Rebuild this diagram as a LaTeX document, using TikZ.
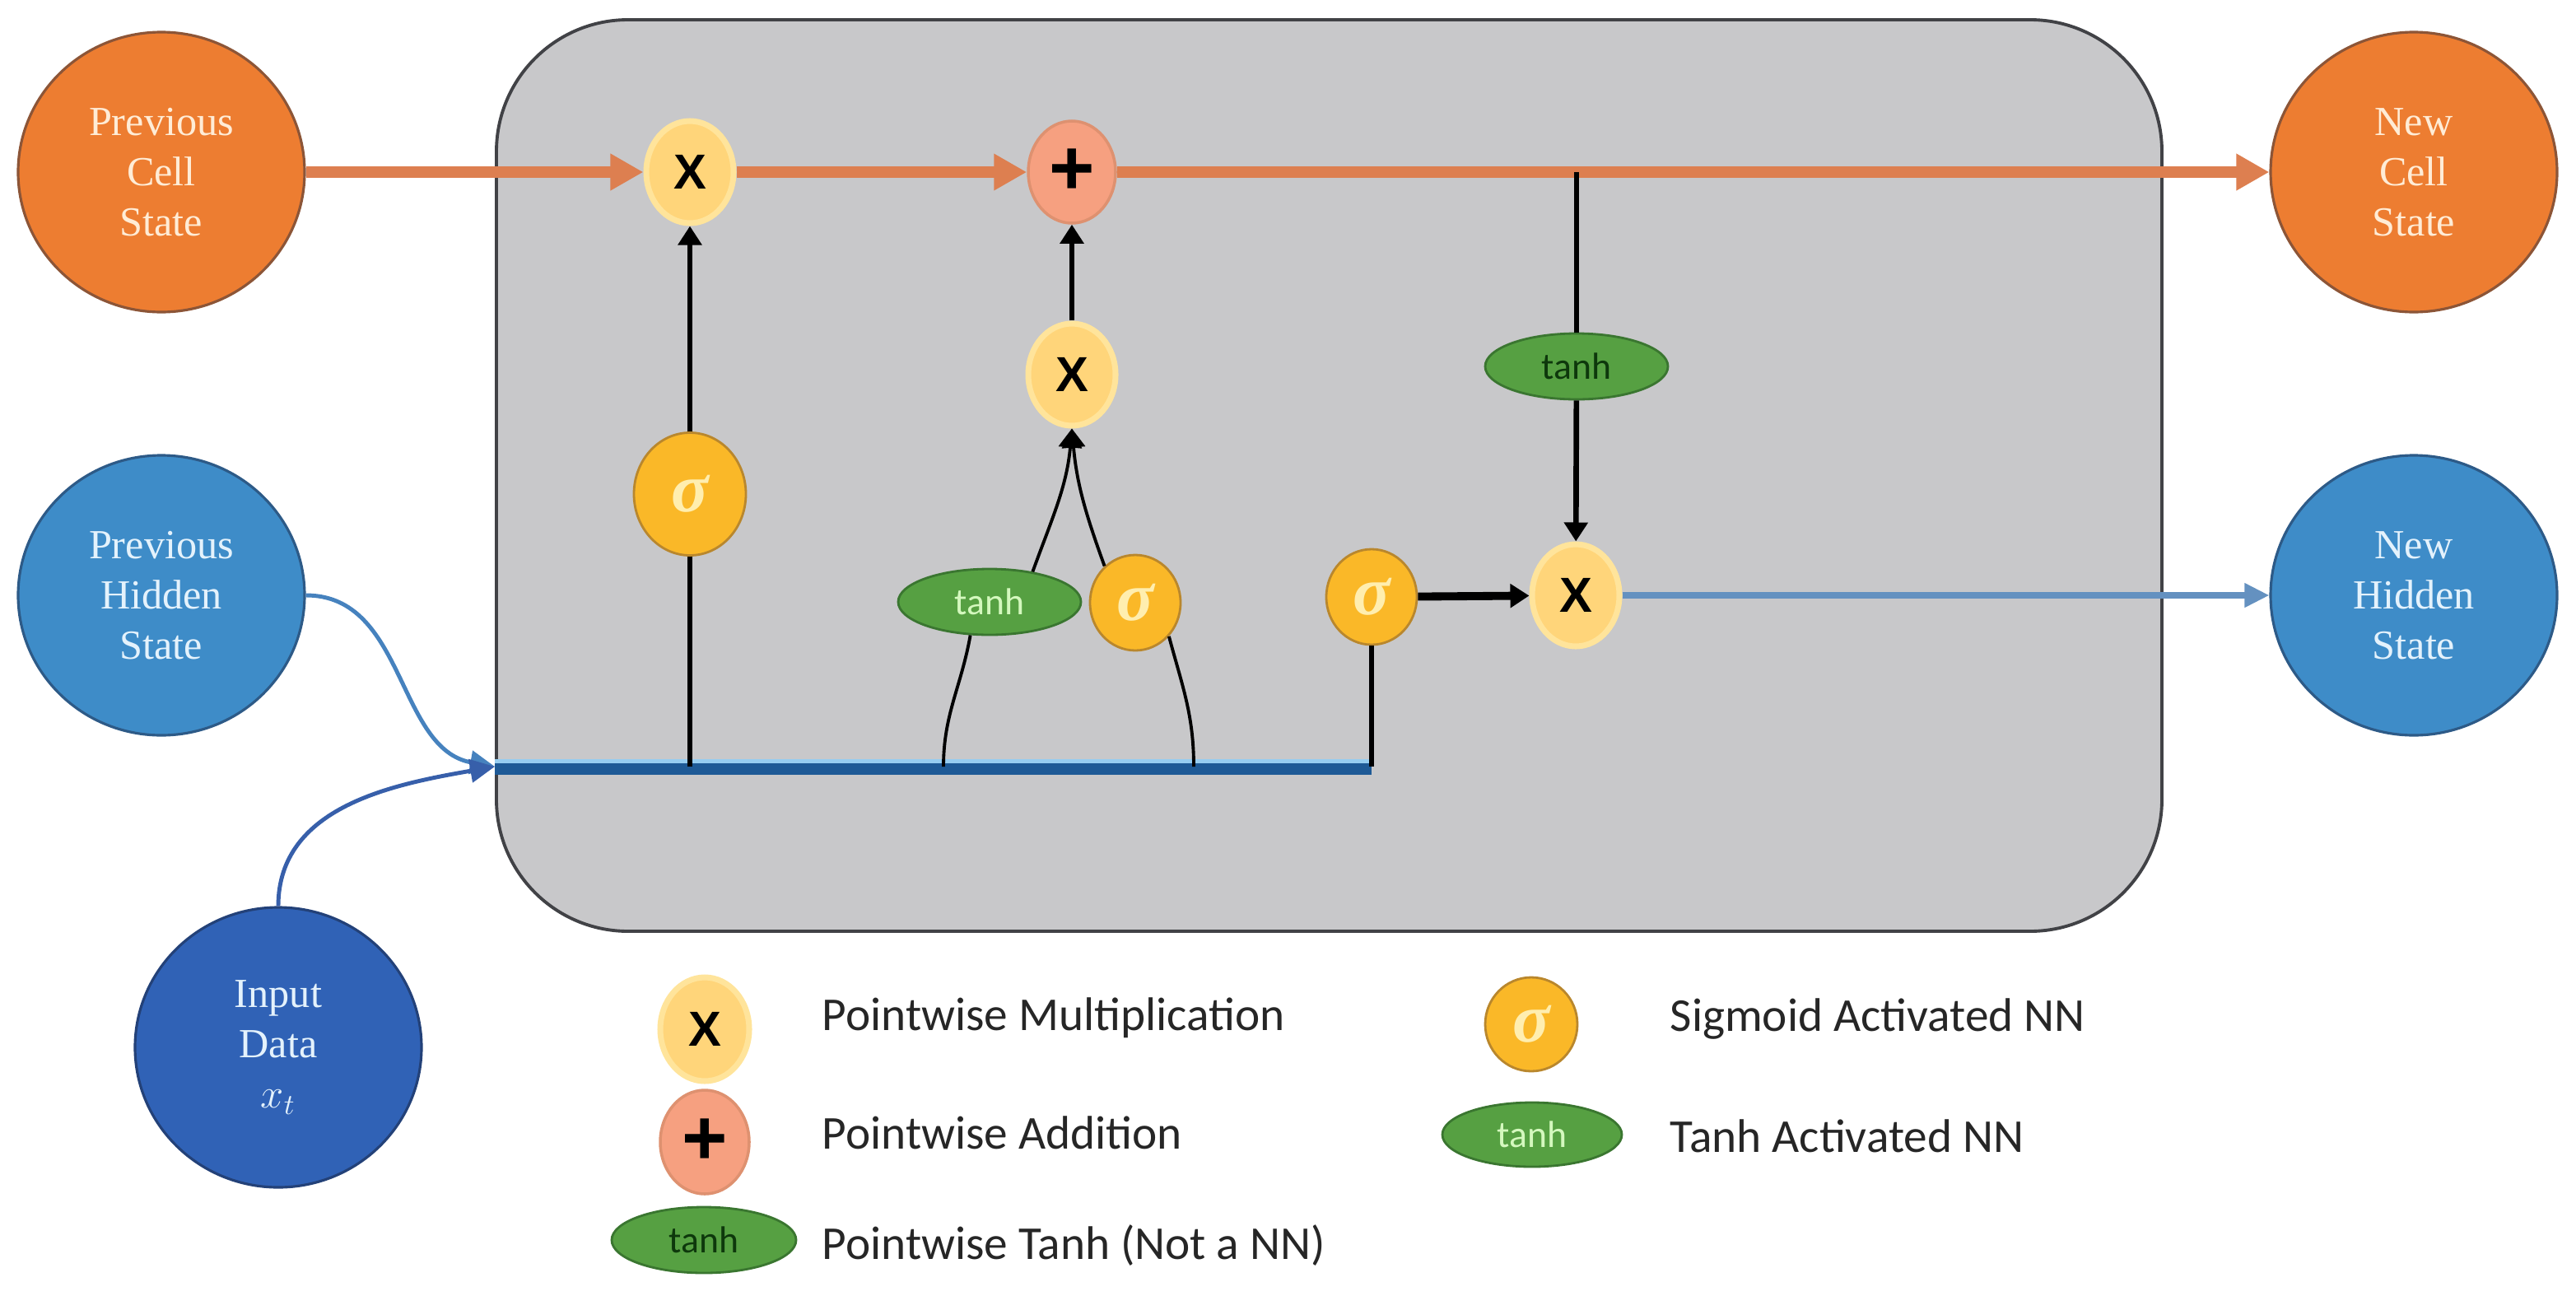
\documentclass[tikz,border=0pt]{standalone}
\usepackage{fontspec}
\setmainfont{Liberation Serif}
\setsansfont{Carlito}
\newfontfamily\symfont{Liberation Sans}
\usetikzlibrary{arrows.meta, shapes.geometric}

\definecolor{cellorange}{RGB}{237,125,49}
\definecolor{celledge}{RGB}{140,85,55}
\definecolor{celltext}{RGB}{255,236,214}
\definecolor{hidblue}{RGB}{62,140,200}
\definecolor{hidedge}{RGB}{45,90,135}
\definecolor{inblue}{RGB}{48,98,182}
\definecolor{inedge}{RGB}{35,65,120}
\definecolor{hidtext}{RGB}{228,242,252}
\definecolor{boxgray}{RGB}{200,200,202}
\definecolor{boxedge}{RGB}{65,66,70}
\definecolor{cellline}{RGB}{221,127,80}
\definecolor{hidline}{RGB}{30,90,150}
\definecolor{hidglow}{RGB}{150,205,240}
\definecolor{hidcurve}{RGB}{70,130,190}
\definecolor{incurve}{RGB}{55,95,170}
\definecolor{outline}{RGB}{100,145,192}
\definecolor{mulfill}{RGB}{255,213,122}
\definecolor{mulglow}{RGB}{255,228,155}
\definecolor{addfill}{RGB}{246,160,128}
\definecolor{addedge}{RGB}{222,145,112}
\definecolor{sigfill}{RGB}{250,184,40}
\definecolor{sigedge}{RGB}{185,135,45}
\definecolor{sigtext}{RGB}{255,238,175}
\definecolor{tanhfill}{RGB}{86,160,66}
\definecolor{tanhedge}{RGB}{58,118,48}
\definecolor{tanhlight}{RGB}{212,248,190}
\definecolor{tanhdark}{RGB}{14,56,12}

\begin{document}
\begin{tikzpicture}[
    state/.style={ellipse, inner sep=0pt, minimum width=3.48cm, minimum height=3.40cm, line width=0.9pt, align=center, font=\fontsize{14.3}{17.3}\selectfont},
    cstate/.style={state, fill=cellorange, draw=celledge, text=celltext},
    hstate/.style={state, fill=hidblue, draw=hidedge, text=hidtext},
    opnode/.style={ellipse, inner sep=0pt, minimum width=1.06cm, minimum height=1.24cm},
    mul/.style={opnode, fill=mulfill, draw=mulglow, line width=2pt, font=\symfont\bfseries\fontsize{17}{17}\selectfont},
    add/.style={opnode, fill=addfill, draw=addedge, line width=1pt, font=\symfont\bfseries\fontsize{27}{27}\selectfont},
    sig/.style={ellipse, inner sep=0pt, minimum width=1.10cm, minimum height=1.16cm, fill=sigfill, draw=sigedge, line width=0.8pt, text=sigtext, font=\bfseries\itshape\fontsize{24}{24}\selectfont},
    tanhnn/.style={ellipse, inner sep=0pt, minimum width=2.22cm, minimum height=0.80cm, fill=tanhfill, draw=tanhedge, line width=0.8pt, text=tanhlight, font=\sffamily\fontsize{13}{13}\selectfont},
    tanhpw/.style={tanhnn, text=tanhdark},
    legtext/.style={anchor=west, inner sep=0pt, text=black!85, font=\sffamily\fontsize{16.3}{16.3}\selectfont},
    cellflow/.style={draw=cellline, line width=3.8pt, -{Triangle[length=0.40cm,width=0.42cm]}},
    wire/.style={line width=1.9pt},
    flow/.style={wire, -{Triangle[length=0.23cm,width=0.28cm]}},
    feed/.style={line width=1.1pt},
    hidin/.style={line width=1.4pt, -{Triangle[length=0.30cm,width=0.28cm]}}
  ]
  \useasboundingbox (0,0) rectangle (31.29,-15.73);

  % the cell body
  \node[draw=boxedge, fill=boxgray, line width=1.1pt, rounded corners=1.6cm, minimum width=20.23cm, minimum height=11.07cm] (cell) at (16.145,-5.775) {};

  % states in and out
  \node[cstate] (pc) at (1.96,-2.09) {Previous\\Cell\\State};
  \node[cstate] (nc) at (29.32,-2.09) {New\\Cell\\State};
  \node[hstate] (ph) at (1.96,-7.23) {Previous\\Hidden\\State};
  \node[hstate] (nh) at (29.32,-7.23) {New\\Hidden\\State};
  \node[hstate, fill=inblue, draw=inedge] (xt) at (3.38,-12.72) {Input\\Data\\$x_t$};

  % gates
  \node[mul] (mf) at (8.38,-2.09) {X};
  \node[add] (ad) at (13.02,-2.09) {+};
  \node[mul] (mi) at (13.02,-4.55) {X};
  \node[mul] (mo) at (19.14,-7.23) {X};
  \node[sig, minimum width=1.36cm, minimum height=1.49cm] (sf) at (8.38,-6.00) {σ};
  \node[tanhnn] (ti) at (12.02,-7.31) {tanh};
  \node[sig] (si) at (13.79,-7.32) {σ};
  \node[sig] (so) at (16.66,-7.25) {σ};
  \node[tanhpw] (tc) at (19.15,-4.45) {tanh};

  \coordinate (hin) at (cell.west |- 0,-9.31);
  \coordinate (hend) at (so |- hin);
  \coordinate (tapf) at (sf |- hin);
  \coordinate (tapc) at (11.46,-9.31);
  \coordinate (tapi) at (14.50,-9.31);
  \coordinate (ctap) at (tc |- ad);

  % hidden bus
  \draw[hidglow, line width=5.2pt] (hin) -- (hend);
  \draw[hidline, line width=3.8pt] ([yshift=-0.8pt]hin) -- ([yshift=-0.8pt]hend);

  % cell state path
  \draw[cellflow] (pc) -- (mf);
  \draw[cellflow] (mf) -- (ad);
  \draw[cellflow] (ad) -- (nc);

  % wiring inside the cell
  \draw[wire] (tapf) -- (sf);
  \draw[flow] (sf) -- (mf);
  \draw[flow] (mi) -- (ad);
  \draw[wire] (ctap) -- (tc);
  \draw[flow] (tc) -- (mo);
  \draw[flow, line width=2.8pt] (so) -- (mo);
  \draw[wire] (hend) -- (so);
  \draw[feed] (tapc) to[out=90, in=-100] (ti.-120);
  \draw[feed, -{Triangle[length=0.23cm,width=0.28cm]}] (ti.35) to[out=70, in=-95] (mi.south);
  \draw[feed] (tapi) to[out=90, in=-75] (si.-45);
  \draw[feed, -{Triangle[length=0.23cm,width=0.28cm]}] (si.130) to[out=110, in=-85] (mi.south);

  % hidden state and input
  \draw[hidin, draw=hidcurve] (ph.east) to[out=0, in=170] (hin);
  \draw[hidin, draw=incurve] (xt.north) to[out=90, in=190] (hin);
  \draw[hidin, draw=outline, line width=2pt] (mo) -- (nh);

  % legend
  \node[mul, minimum width=1.08cm, minimum height=1.26cm] (lm) at (8.56,-12.50) {X};
  \node[legtext] (lmt) at (9.98,-12.36) {Pointwise Multiplication};
  \node[add, minimum width=1.08cm, minimum height=1.26cm] (la) at (8.56,-13.87) {+};
  \node[legtext] (lat) at (9.98,-13.76) {Pointwise Addition};
  \node[tanhpw, minimum width=2.24cm] (lt) at (8.55,-15.06) {tanh};
  \node[legtext] (ltt) at (9.98,-15.12) {Pointwise Tanh (Not a NN)};
  \node[sig, minimum width=1.12cm, minimum height=1.14cm] (ls) at (18.60,-12.44) {σ};
  \node[legtext] (lst) at (20.28,-12.38) {Sigmoid Activated NN};
  \node[tanhnn, minimum width=2.18cm, minimum height=0.78cm] (lta) at (18.61,-13.78) {tanh};
  \node[legtext] (ltat) at (20.28,-13.80) {Tanh Activated NN};
\end{tikzpicture}
\end{document}
